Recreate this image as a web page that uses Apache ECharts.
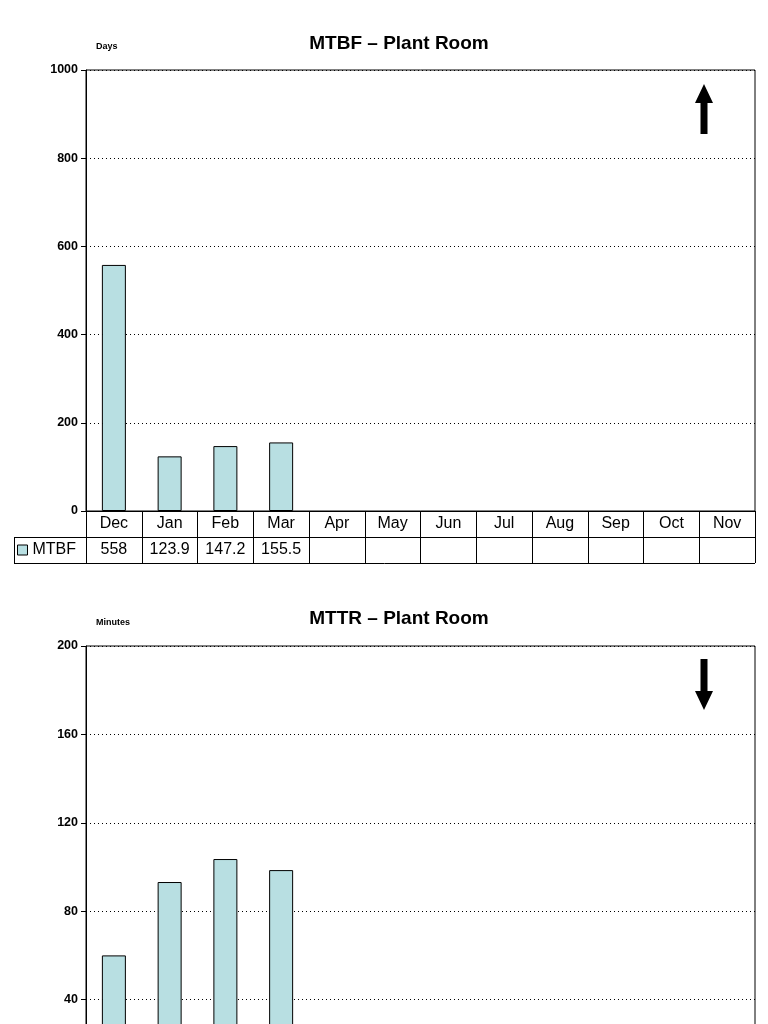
<!DOCTYPE html>
<html><head><meta charset="utf-8">
<script src="https://cdn.jsdelivr.net/npm/echarts@6/dist/echarts.min.js"></script>
<style>html,body{margin:0;padding:0;background:#fff}#c{width:768px;height:1024px}</style>
</head><body><div id="c"></div>
<script>
const months = ['Dec','Jan','Feb','Mar','Apr','May','Jun','Jul','Aug','Sep','Oct','Nov'];
const mtbf = [558, 123.9, 147.2, 155.5];
const mttr = [60, 93.2, 103.6, 98.6];
const mtbfTicks = [0, 200, 400, 600, 800, 1000];
const mttrTicks = [0, 40, 80, 120, 160, 200];

const FONT = 'Liberation Sans, Arial, sans-serif';
const BAR = '#b8dfe2';
const G1 = {left: 86, top: 70, width: 669, height: 441};
const G2 = {left: 86, top: 646, width: 669, height: 442};
const ROW = 26;

function tableRow(vals){ return months.map((m,i)=> vals[i] !== undefined ? String(vals[i]) : ''); }

function yAx(gi, ticks, name){
  return {
    type:'value', gridIndex:gi, min:ticks[0], max:ticks[ticks.length-1],
    interval:ticks[1]-ticks[0],
    name:name, nameLocation:'end', nameGap:19,
    nameTextStyle:{fontFamily:FONT, fontWeight:'bold', fontSize:9, color:'#000', align:'left', padding:[0,0,0,10]},
    axisLine:{show:true, lineStyle:{color:'#000', width:1}},
    axisTick:{show:true, length:5, lineStyle:{color:'#000'}},
    axisLabel:{fontFamily:FONT, fontWeight:'bold', fontSize:12.5, color:'#000', margin:8, formatter:(v)=>String(v)},
    splitLine:{show:true, lineStyle:{color:'#000', type:[1,3], width:1}}
  };
}
function xCat(gi){
  return {
    type:'category', gridIndex:gi, data:months, position:'bottom',
    axisLine:{show:true, lineStyle:{color:'#000', width:1}},
    axisTick:{show:true, interval:0, length:ROW*2, lineStyle:{color:'#000', width:1}},
    axisLabel:{interval:0, fontFamily:FONT, fontSize:16, color:'#000', margin:5},
    splitLine:{show:false}
  };
}
function xVal(gi, vals){
  return {
    type:'category', gridIndex:gi, data:tableRow(vals), position:'bottom', offset:ROW,
    axisLine:{show:true, lineStyle:{color:'#000', width:1}},
    axisTick:{show:false},
    axisLabel:{interval:0, fontFamily:FONT, fontSize:16, color:'#000', margin:5},
    splitLine:{show:false}
  };
}

function upArrow(x, y){
  return {type:'polygon', shape:{points:[[x,y],[x+9,y+19],[x+3.5,y+19],[x+3.5,y+50],[x-3.5,y+50],[x-3.5,y+19],[x-9,y+19]]}, style:{fill:'#000'}};
}
function downArrow(x, y){
  return {type:'polygon', shape:{points:[[x-3.5,y],[x+3.5,y],[x+3.5,y+32],[x+9,y+32],[x,y+51],[x-9,y+32],[x-3.5,y+32]]}, style:{fill:'#000'}};
}
function tableBorders(g){
  const y0 = g.top + g.height, y1 = y0 + ROW, y2 = y0 + ROW*2, r = g.left + g.width;
  return [
    {type:'line', shape:{x1:14, y1:y1+0.5, x2:g.left, y2:y1+0.5}, style:{stroke:'#000', lineWidth:1}},
    {type:'line', shape:{x1:14, y1:y2+0.5, x2:r, y2:y2+0.5}, style:{stroke:'#000', lineWidth:1}},
    {type:'line', shape:{x1:14.5, y1:y1, x2:14.5, y2:y2}, style:{stroke:'#000', lineWidth:1}}
  ];
}

const gridBase = {show:true, borderColor:'#000', borderWidth:1, backgroundColor:'#fff', containLabel:false, outerBoundsMode:'none'};
const chart = echarts.init(document.getElementById('c'), null, {renderer:'canvas'});
chart.setOption({
  backgroundColor:'#fff',
  animation:false,
  title:[
    {text:'MTBF \u2013 Plant Room', left:399, top:34, textAlign:'center', textStyle:{fontFamily:FONT, fontWeight:'bold', fontSize:19, color:'#000'}, padding:0},
    {text:'MTTR \u2013 Plant Room', left:399, top:609, textAlign:'center', textStyle:{fontFamily:FONT, fontWeight:'bold', fontSize:19, color:'#000'}, padding:0}
  ],
  legend:{data:['MTBF'], left:17, top:542, padding:0, icon:'rect', itemWidth:10, itemHeight:10, itemGap:4,
    textStyle:{fontFamily:FONT, fontSize:16, color:'#000', padding:[0,0,0,0]},
    itemStyle:{borderColor:'#000', borderWidth:1}},
  grid:[
    Object.assign({}, gridBase, G1),
    Object.assign({}, gridBase, G2)
  ],
  xAxis:[xCat(0), xVal(0, mtbf), xCat(1), xVal(1, mttr)],
  yAxis:[yAx(0, mtbfTicks, 'Days'), yAx(1, mttrTicks, 'Minutes')],
  series:[
    {name:'MTBF', type:'bar', xAxisIndex:0, yAxisIndex:0, data:mtbf, barWidth:24,
      itemStyle:{color:BAR, borderColor:'#000', borderWidth:1}},
    {name:'MTTR', type:'bar', xAxisIndex:2, yAxisIndex:1, data:mttr, barWidth:24,
      itemStyle:{color:BAR, borderColor:'#000', borderWidth:1}}
  ],
  graphic:[upArrow(704, 84), downArrow(704, 659)].concat(tableBorders(G1), tableBorders(G2))
});
</script></body></html>
